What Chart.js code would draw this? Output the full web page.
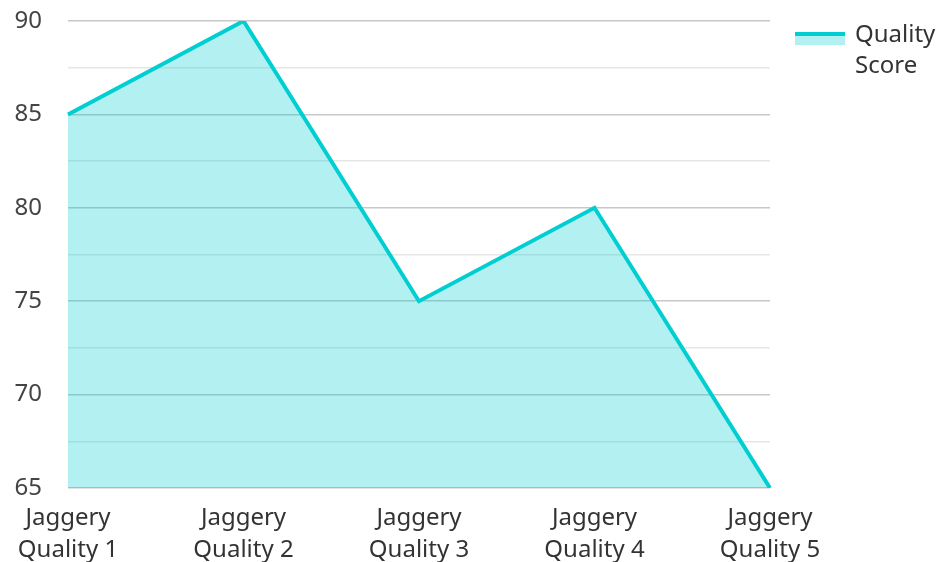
<!DOCTYPE html>
<html>
<head>
<meta charset="utf-8">
<script src="https://cdn.jsdelivr.net/npm/chart.js@4/dist/chart.umd.min.js"></script>
<style>
  html, body { margin: 0; padding: 0; background: #fff; }
  #wrap { width: 940px; height: 562px; position: relative; }
</style>
</head>
<body>
<div id="wrap"><canvas id="grafico"></canvas></div>
<script>
// Dados do gráfico
const categorias = [
    ['Jaggery', 'Quality 1'],
    ['Jaggery', 'Quality 2'],
    ['Jaggery', 'Quality 3'],
    ['Jaggery', 'Quality 4'],
    ['Jaggery', 'Quality 5']
];
const qualityScore = [85, 90, 75, 80, 65];
const nomeSerie = ['Quality', 'Score'];
const yMin = 65, yMax = 90;

const corLinha = '#00CED1';
const corArea = 'rgba(0, 206, 209, 0.3)';
const fonte = "'Noto Sans', 'Open Sans', sans-serif";

// Legenda desenhada à mão (texto quebrado em duas linhas)
const legendaLateral = {
    id: 'legendaLateral',
    afterDraw(chart) {
        const c = chart.ctx;
        const ds = chart.data.datasets[0];
        const x = 795, y = 32;
        c.save();
        c.fillStyle = ds.backgroundColor;
        c.fillRect(x, y, 50, 13);
        c.fillStyle = ds.borderColor;
        c.fillRect(x, y, 50, 4);
        c.fillStyle = '#333';
        c.font = '24px ' + fonte;
        c.textBaseline = 'middle';
        nomeSerie.forEach(function (t, i) {
            c.fillText(t, 855, 35 + i * 31);
        });
        c.restore();
    }
};

const ctx = document.getElementById('grafico').getContext('2d');
new Chart(ctx, {
    type: 'line',
    data: {
        labels: categorias,
        datasets: [{
            label: nomeSerie.join(' '),
            data: qualityScore,
            borderColor: corLinha,
            backgroundColor: corArea,
            borderWidth: 4,
            fill: 'start',
            tension: 0,
            pointRadius: 0
        }]
    },
    options: {
        responsive: true,
        maintainAspectRatio: false,
        animation: false,
        layout: { padding: { top: 21, right: 170, left: 0, bottom: 0 } },
        plugins: {
            legend: { display: false },
            tooltip: { enabled: false }
        },
        scales: {
            x: {
                offset: false,
                border: { display: false },
                grid: { display: false, drawTicks: false },
                ticks: {
                    color: '#333',
                    padding: 15,
                    maxRotation: 0,
                    autoSkip: false,
                    font: { family: fonte, size: 24, lineHeight: 1.3 }
                },
                afterFit(scale) {
                    scale.height = 74;
                    scale.paddingLeft = 0;
                    scale.paddingRight = 0;
                }
            },
            y: {
                min: yMin,
                max: yMax,
                border: { display: false },
                grid: {
                    drawTicks: false,
                    lineWidth: 1.5,
                    color: function (c) {
                        return c.tick && c.tick.value % 5 === 0 ? '#c8c8c8' : '#e6e6e6';
                    }
                },
                ticks: {
                    stepSize: 2.5,
                    color: '#444',
                    padding: 26,
                    font: { family: fonte, size: 24 },
                    callback: function (v) { return v % 5 === 0 ? v : ''; }
                },
                afterFit(scale) {
                    scale.width = 68;
                    scale.paddingTop = 0;
                    scale.paddingBottom = 0;
                }
            }
        }
    },
    plugins: [legendaLateral]
});
</script>
</body>
</html>
